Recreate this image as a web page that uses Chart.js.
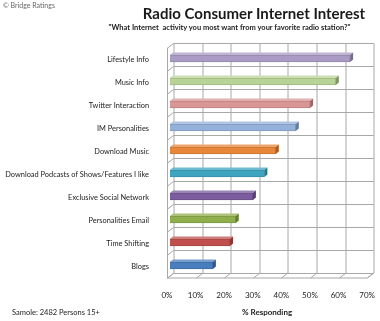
<!DOCTYPE html>
<html>
<head>
<meta charset="utf-8">
<script src="https://cdn.jsdelivr.net/npm/chart.js@4.4.0/dist/chart.umd.min.js"></script>
<style>
  body { margin: 0; background: #fff; font-family: Lato, "Open Sans", sans-serif; }
  #wrap { position: relative; width: 380px; height: 321px; overflow: hidden; }
  #chart { position: absolute; left: 0; top: 0; }
  .txt { position: absolute; white-space: nowrap; }
  #copy { left: 3px; top: 1px; font-size: 7px; color: #666; }
  #title { left: 0; width: 508px; top: 4px; text-align: center; font-size: 15px; font-weight: bold; color: #1a1a1a; }
  #sub { left: 0; width: 459px; top: 23px; text-align: center; font-size: 7.5px; font-weight: bold; color: #222; }
  #sample { left: 12px; top: 308px; font-size: 7.5px; color: #222; }
</style>
</head>
<body>
<div id="wrap">
  <canvas id="chart" width="380" height="321"></canvas>
  <div class="txt" id="copy">© Bridge Ratings</div>
  <div class="txt" id="title">Radio Consumer Internet Interest</div>
  <div class="txt" id="sub">"What Internet&nbsp; activity you most want from your favorite radio station?"</div>
  <div class="txt" id="sample">Samole: 2482 Persons 15+</div>
</div>
<script>
// categories, top to bottom
const activities = [
  "Lifestyle Info",
  "Music Info",
  "Twitter Interaction",
  "IM Personalities",
  "Download Music",
  "Download Podcasts of Shows/Features I like",
  "Exclusive Social Network",
  "Personalities Email",
  "Time Shifting",
  "Blogs"
];
// % responding
const responding = [63, 58, 49, 44, 37, 33, 29, 23, 21, 15];
const xTicks = [0, 10, 20, 30, 40, 50, 60, 70];

const barColors = ["#a99bc4", "#b9d397", "#da9694", "#95b1da", "#e8873a",
                   "#3ea4c0", "#7a5c9f", "#8fae4c", "#c0504d", "#4a7dbd"];

// lighten / darken a hex colour
function shade(hex, f) {
  let n = parseInt(hex.slice(1), 16);
  let r = n >> 16, g = (n >> 8) & 255, b = n & 255;
  if (f > 0) {
    r += (255 - r) * f; g += (255 - g) * f; b += (255 - b) * f;
  } else {
    r *= 1 + f; g *= 1 + f; b *= 1 + f;
  }
  return `rgb(${Math.round(r)},${Math.round(g)},${Math.round(b)})`;
}

// vertical gradient on the bar front, a bit lighter in the middle
function barFill(ctx) {
  const c = barColors[ctx.dataIndex];
  const bar = ctx.element;
  if (!bar || bar.y === undefined) return c;
  const h = bar.height || 7;
  const g = ctx.chart.ctx.createLinearGradient(0, bar.y - h / 2 - 1, 0, bar.y + h / 2 - 1);
  g.addColorStop(0, shade(c, -0.05));
  g.addColorStop(0.45, shade(c, 0.15));
  g.addColorStop(1, shade(c, -0.12));
  return g;
}

const DX = 6.5, DY = 5;       // depth of the walls
const BX = 3, BY = 2.5;       // depth of the bars

// draws the 3D walls and the bar sides
const depth = {
  id: "depth",
  beforeDatasetsDraw(chart) {
    const ctx = chart.ctx;
    const a = chart.chartArea;
    const xs = chart.scales.x;
    const n = activities.length;
    ctx.save();
    ctx.strokeStyle = "#a8a8a8";
    ctx.lineWidth = 1;
    ctx.beginPath();
    // back wall verticals + floor diagonals
    for (const v of xTicks) {
      const px = Math.round(xs.getPixelForValue(v)) + 0.5;
      ctx.moveTo(px + DX, a.top - DY);
      ctx.lineTo(px + DX, a.bottom - DY);
      ctx.lineTo(px, a.bottom);
    }
    // back wall horizontals + left wall diagonals
    for (let i = 0; i <= n; i++) {
      const py = Math.round(a.top + i * a.height / n) + 0.5;
      ctx.moveTo(a.right + DX, py - DY);
      ctx.lineTo(a.left + DX, py - DY);
      ctx.lineTo(a.left, py);
    }
    // front edges
    const l = Math.round(a.left) + 0.5;
    ctx.moveTo(l, a.top);
    ctx.lineTo(l, a.bottom);
    ctx.lineTo(a.right, a.bottom);
    ctx.lineTo(a.right + DX, a.bottom - DY);
    ctx.stroke();
    ctx.restore();

    ctx.save();
    ctx.translate(3, -1);
  },
  afterDatasetsDraw(chart) {
    const ctx = chart.ctx;
    const meta = chart.getDatasetMeta(0);
    meta.data.forEach((bar, i) => {
      const p = bar.getProps(["x", "y", "base", "height"], true);
      const top = p.y - p.height / 2, bot = p.y + p.height / 2;
      const c = barColors[i];
      ctx.fillStyle = shade(c, 0.25);
      ctx.beginPath();
      ctx.moveTo(p.base, top);
      ctx.lineTo(p.x, top);
      ctx.lineTo(p.x + BX, top - BY);
      ctx.lineTo(p.base + BX, top - BY);
      ctx.closePath();
      ctx.fill();
      ctx.fillStyle = shade(c, -0.3);
      ctx.beginPath();
      ctx.moveTo(p.x, top);
      ctx.lineTo(p.x + BX, top - BY);
      ctx.lineTo(p.x + BX, bot - BY);
      ctx.lineTo(p.x, bot);
      ctx.closePath();
      ctx.fill();
    });
    ctx.restore();
  }
};

new Chart(document.getElementById("chart"), {
  type: "bar",
  data: {
    labels: activities,
    datasets: [{
      data: responding,
      backgroundColor: barFill,
      borderColor: barColors.map(c => shade(c, -0.2)),
      borderWidth: 0.8,
      barThickness: 7
    }]
  },
  options: {
    indexAxis: "y",
    responsive: false,
    animation: false,
    layout: { padding: { top: 48, right: 12, left: 0, bottom: 0 } },
    plugins: { legend: { display: false }, tooltip: { enabled: false } },
    scales: {
      x: {
        min: 0,
        max: 70,
        afterBuildTicks: s => { s.ticks = xTicks.map(v => ({ value: v })); },
        ticks: {
          callback: v => v + "%",
          font: { family: "Lato", size: 8 },
          color: "#222",
          padding: 5,
          maxRotation: 0
        },
        grid: { display: false },
        border: { display: false },
        title: {
          display: true,
          text: "% Responding",
          font: { family: "Lato", size: 8, weight: "bold" },
          color: "#222",
          padding: { top: 0, bottom: 4 }
        },
        afterFit: s => { s.height = 43; }
      },
      y: {
        ticks: {
          font: { family: "Lato", size: 7.4 },
          color: "#222",
          padding: 10
        },
        grid: { display: false },
        border: { display: false },
        afterFit: s => { s.width = 167; }
      }
    }
  },
  plugins: [depth]
});
</script>
</body>
</html>
